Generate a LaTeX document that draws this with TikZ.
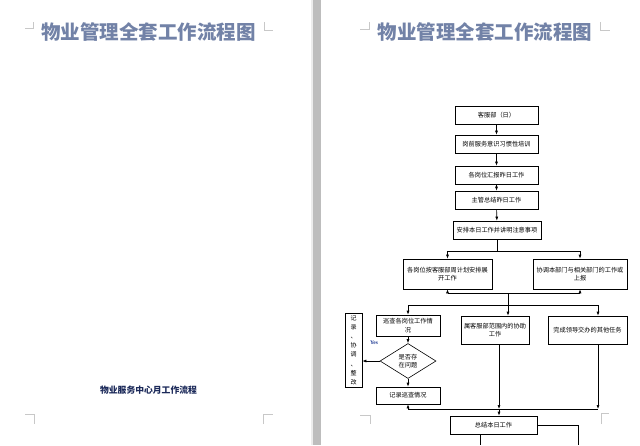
\documentclass[tikz,border=0pt]{standalone}
\usepackage{fontspec}
\newfontfamily\cjk{Noto Sans CJK SC}
\newfontfamily\serifen{Liberation Serif}
\usetikzlibrary{arrows.meta,shapes.geometric}
\definecolor{titlecol}{HTML}{7282A7}
\definecolor{navy}{HTML}{1C2A5A}
\definecolor{markgray}{HTML}{C8C8C8}
\definecolor{bargray}{HTML}{BDBDBD}
\definecolor{yescol}{HTML}{1F3A93}
\tikzset{
  fbox/.style={draw, line width=0.6pt, inner sep=0pt, align=center, font=\cjk\fontsize{6.2}{8.5}\selectfont},
  fdia/.style={draw, diamond, line width=0.6pt, inner sep=0pt, align=center, font=\cjk\fontsize{6.2}{8.5}\selectfont},
  conn/.style={line width=0.6pt},
  arr/.style={line width=0.6pt, -{Latex[length=4pt,width=3pt]}},
  crop/.style={draw=markgray, line width=0.6pt},
  bigtitle/.style={font=\cjk\bfseries\fontsize{19.5}{21}\selectfont, text=titlecol, inner sep=0pt}
}
\begin{document}
\begin{tikzpicture}[x=1pt,y=-1pt]
\useasboundingbox (0,0) rectangle (640,445);
\fill[white] (0,0) rectangle (640,445);
% page separator
\fill[bargray] (313,0) rectangle (321,445);
\fill[gray!15] (311,0) rectangle (313,445);
% crop marks left page
\draw[crop] (25,28) -- (33,28) -- (33,22);
\draw[crop] (264,22) -- (264,30) -- (273,30);
\draw[crop] (25,414) -- (34,414) -- (34,424);
\draw[crop] (263,424) -- (263,414) -- (273,414);
% crop marks right page
\draw[crop] (360,29) -- (369,29) -- (369,22);
\draw[crop] (600,22) -- (600,30) -- (610,30);
\draw[crop] (360,415) -- (370,415) -- (370,424);
\draw[crop] (601,424) -- (601,413) -- (609,413);
% titles
\node[bigtitle] (t1) at (148.5,32) {物业管理全套工作流程图};
\node[bigtitle] (t2) at (485,32) {物业管理全套工作流程图};
\node[font=\cjk\bfseries\fontsize{8.8}{10}\selectfont, text=navy, inner sep=0pt] (t3) at (148.5,390) {物业服务中心月工作流程};
% flow chart boxes
\node[fbox, minimum width=83, minimum height=18] (b1) at (496.5,115) {客服部（日）};
\node[fbox, minimum width=83, minimum height=18] (b2) at (496.5,144) {岗前服务意识习惯性培训};
\node[fbox, minimum width=83, minimum height=18] (b3) at (496.5,175) {各岗位汇报昨日工作};
\node[fbox, minimum width=83, minimum height=18] (b4) at (496.5,200) {主管总结昨日工作};
\node[fbox, minimum width=88, minimum height=18] (b5) at (497,230) {安排本日工作并讲明注意事项};
\node[fbox, minimum width=89, minimum height=30] (b6) at (447.5,274) {各岗位按客服部周计划安排展\\开工作};
\node[fbox, minimum width=94, minimum height=30] (b7) at (580,274) {协调本部门与相关部门的工作或\\上报};
\node[fbox, minimum width=64, minimum height=21] (b8) at (408,325.5) {巡查各岗位工作情\\况};
\node[fbox, minimum width=68, minimum height=28] (b12) at (495,330) {属客服部范围内的协助\\工作};
\node[fbox, minimum width=79, minimum height=28] (b13) at (587.5,330) {完成领导交办的其他任务};
\node[fdia, minimum width=56, minimum height=35] (d) at (408,361) {是否存\\在问题};
\node[fbox, minimum width=17, minimum height=74, font=\cjk\fontsize{6}{9.2}\selectfont] (b11) at (353.5,350) {记\\录\\、\\协\\调\\、\\整\\改};
\node[fbox, minimum width=64, minimum height=17] (b10) at (408,395.5) {记录巡查情况};
\node[fbox, minimum width=87, minimum height=18] (b14) at (493.5,425) {总结本日工作};
\node[font=\serifen\bfseries\fontsize{5.5}{6}\selectfont, text=yescol, inner sep=0pt] (yes) at (374,343) {Yes};
% connectors top column
\draw[arr] (b1) -- (b2);
\draw[arr] (b2) -- (b3);
\draw[arr] (b3) -- (b4);
\draw[arr] (b4) -- (b5);
% split to row 2
\coordinate (s1) at (497,251);
\coordinate (s1l) at (447.5,251);
\coordinate (s1r) at (580,251);
\draw[conn] (b5.south) -- (s1);
\draw[conn] (s1l) -- (s1r);
\draw[arr] (s1l) -- (b6.north);
\draw[arr] (s1r) -- (b7.north);
% join under row 2
\coordinate (j1l) at (447.5,293);
\coordinate (j1r) at (580,293);
\coordinate (j1m) at (508,293);
\coordinate (j2m) at (508,305);
\coordinate (j2l) at (408,305);
\coordinate (j2r) at (598,305);
\draw[conn] (j1l) -- (j1r);
\draw[arr] (j1l) -- (b6.south);
\draw[arr] (j1r) -- (b7.south);
\draw[conn] (j1m) -- (j2m);
\draw[conn] (j2l) -- (j2r);
\draw[arr] (j2l) -- (b8.north);
\draw[arr] (j2m) -- (j2m |- b12.north);
\draw[arr] (j2r) -- (j2r |- b13.north);
% left branch
\draw[arr] (b8) -- (d);
\draw[arr] (d.west) -- (d.west -| b11.east);
\draw[arr] (d) -- (b10);
% bottom join
\coordinate (k1) at (499,409);
\coordinate (k2) at (598,409);
\coordinate (k0) at (408,409);
\draw[conn] (k0) -- (k2);
\draw[arr] (k0) -- (b10.south);
\draw[arr] (k1 |- b12.south) -- (k1);
\draw[arr] (k1) -- (k1 |- b14.north);
\draw[arr] (k2 |- b13.south) -- (k2);
% from summary box
\coordinate (e1) at (578,425);
\coordinate (e2) at (578,445);
\coordinate (f1) at (480,445);
\draw[conn] (b14.east) -- (e1) -- (e2);
\draw[conn] (f1 |- b14.south) -- (f1);
\end{tikzpicture}
\end{document}
